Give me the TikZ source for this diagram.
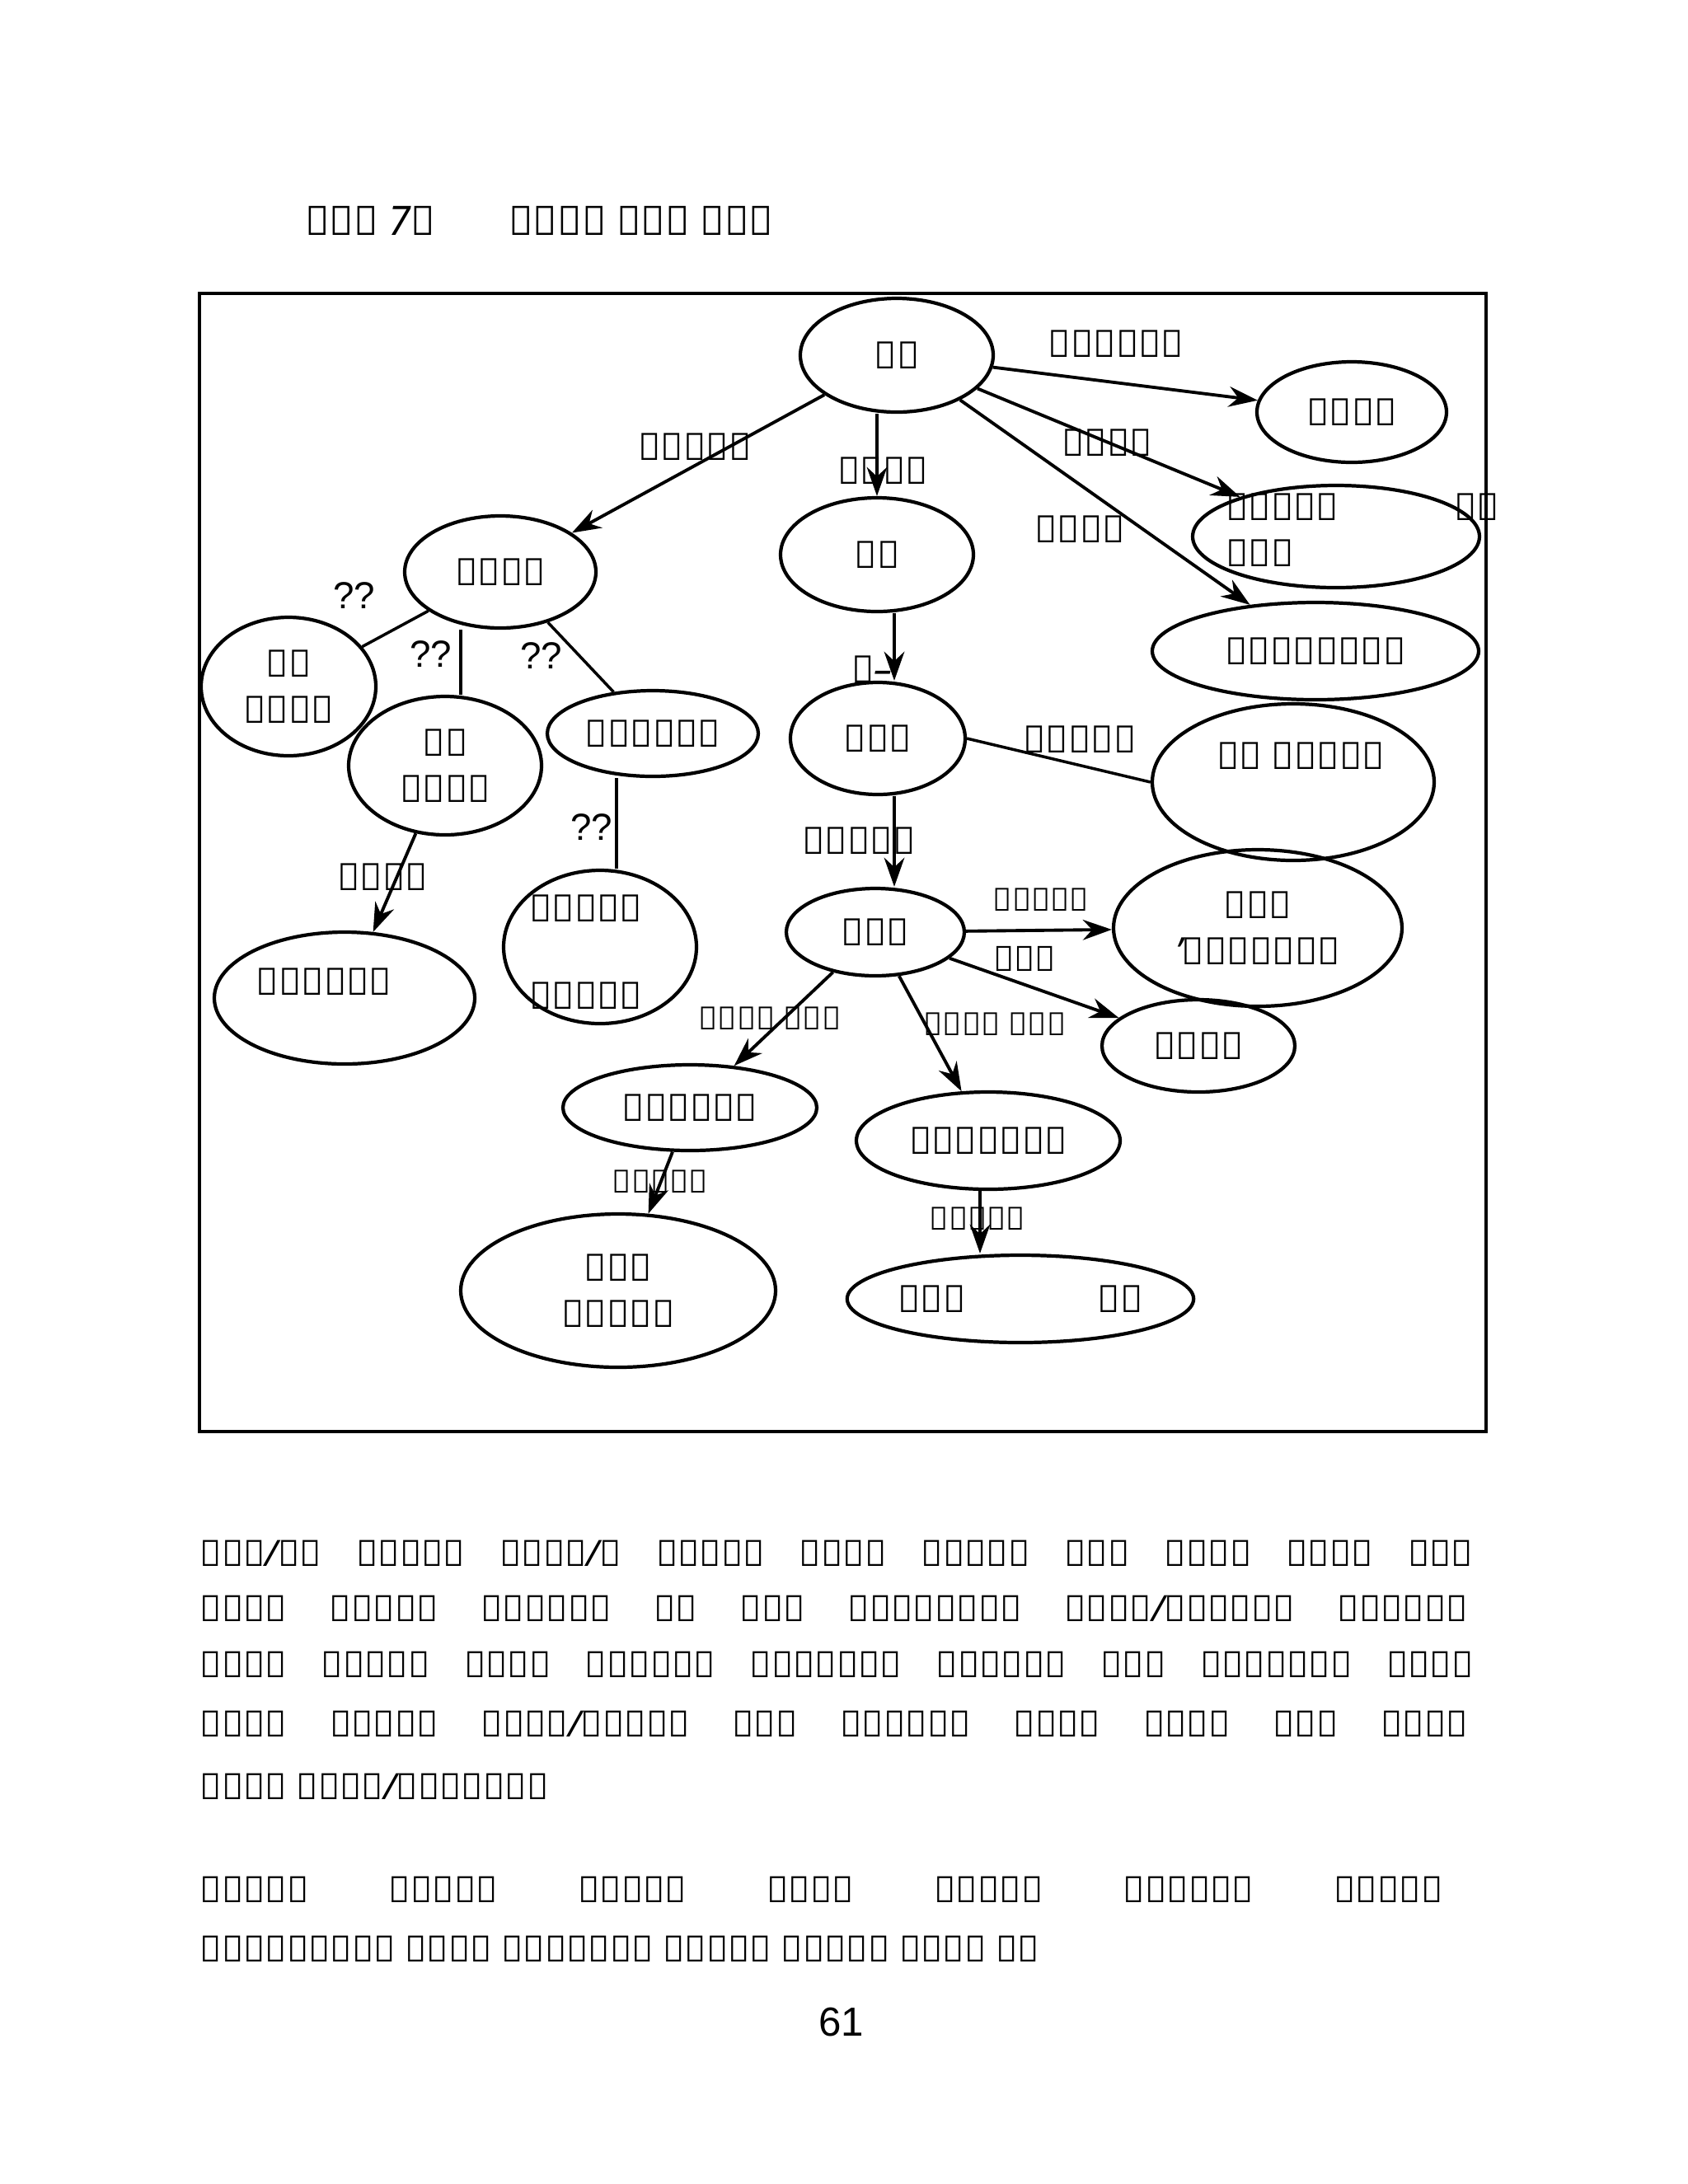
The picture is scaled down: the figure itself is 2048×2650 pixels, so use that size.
\documentclass[tikz,border=0pt]{standalone}
\usepackage{fontspec}
\setmainfont{Noto Sans}
\newfontfamily\pnum{Liberation Sans}
\usetikzlibrary{arrows.meta,shapes.geometric}
\newcommand{\JL}[1]{\spaceskip=0.3em plus 3em\parfillskip=0pt\relax #1\par}
\begin{document}
\begin{tikzpicture}[x=0.01cm,y=-0.01cm,
  el/.style={draw,ellipse,line width=1.2pt,inner sep=0pt,font=\fontsize{13}{16}\selectfont\itshape\bfseries},
  lb/.style={font=\fontsize{11}{13}\selectfont\itshape,inner sep=1pt},
  bl/.style={font=\fontsize{13}{16}\selectfont\itshape\bfseries,inner sep=1pt},
  ar/.style={line width=1.1pt,-{Stealth[length=10pt,width=7pt]}},
  ln/.style={line width=1pt},
  bodyj/.style={anchor=west,inner sep=0pt,text width=15.63cm,font=\fontsize{12.5}{15}\selectfont\itshape\bfseries},
  bodyl/.style={anchor=west,inner sep=0pt,font=\fontsize{12.5}{15}\selectfont\itshape\bfseries}]
\useasboundingbox (0,0) rectangle (2048,2650);
\node[font=\fontsize{14}{16}\selectfont\bfseries\itshape,anchor=west] (t1) at (358,268) {ምስል 7፡};
\node[font=\fontsize{14}{16}\selectfont\itshape,anchor=west] (t2) at (605,268) {የፅንስ ሃሳብ ካርታ};
\draw[line width=1pt] (242,356) rectangle (1803,1737);
\newcommand{\E}[5]{\node[el,minimum width=#3*2*0.01cm,minimum height=#4*2*0.01cm,align=center] (#1) at #2 {#5};}
\E{lib}{(1088,431)}{117}{69}{ልብ}
\E{sew}{(1640,500)}{115}{61}{ሰውነት}
\E{lay}{(1621,651)}{174}{62}{}
\node[bl,align=left,anchor=west] (layt) at (1483,643) {የላይኛዉ\hspace{1.4cm}ደም\\መልስ};
\E{tach}{(1596,790)}{198}{59}{ታችኛዉቨናክቫ}
\E{hw}{(607,694)}{116}{68}{ህዋሶች}
\E{dem}{(1064,673)}{117}{69}{ደም}
\E{qey}{(350,833)}{106}{84}{ቀይ\\ህዋሶች}
\E{nech}{(540,929)}{117}{84}{ነጭ\\ህዋሶች}
\E{pla}{(792,890)}{128}{52}{ፕላትሌትስ}
\E{bun}{(1065,896)}{106}{68}{ቧንቧ}
\E{wana}{(1569,949)}{171}{95}{}
\node[bl] (want) at (1578,917) {ዋና ደምስሮች};
\E{end}{(728,1149)}{117}{93}{}
\node[bl,align=left,anchor=west] (endt) at (638,1155) {እንዲረጋ\\[14pt]የደርጋል};
\E{bish}{(418,1211)}{158}{80}{}
\node[bl] (bisht) at (393,1191) {በሽታዎችን};
\E{yedem}{(1062,1131)}{108}{53}{የደም}
\E{qech}{(1526,1126)}{175}{95}{ቀጭን\\’ደምቧንቧዎች}
\E{san}{(1454,1269)}{117}{56}{የሳንባ}
\E{bay}{(837,1344)}{154}{52}{ባይክስፒድ}
\E{tray}{(1199,1384)}{160}{59}{ትራይክስፒድ}
\E{beq}{(750,1566)}{191}{93}{በቀኝ\\ልብበኩል}
\E{begra}{(1238,1576)}{200}{53}{በግራ\hspace{1.6cm}ልብ}
\draw[ar] (lib) -- (sew);
\draw[ar] (lib) -- (lay);
\draw[ar] (lib) -- (tach);
\draw[ar] (lib) -- (hw);
\draw[ar] (lib.south -| dem) -- (dem);
\draw[ln] (hw) -- (qey);
\draw[ln] (hw.south -| 559,0) -- (nech.north -| 559,0);
\draw[ln] (hw) -- (pla);
\draw[ln] (pla.south -| 748,0) -- (end.north -| 748,0);
\draw[ar] (nech) -- (bish);
\draw[ar] (dem.south -| 1085,0) -- (bun.north -| 1085,0);
\draw[ln] (bun.east) -- (wana.west);
\draw[ar] (bun.south -| 1085,0) -- (yedem.north -| 1085,0);
\draw[ar] (yedem) -- (qech);
\draw[ar] (yedem) -- (san);
\draw[ar] (yedem) -- (bay);
\draw[ar] (yedem) -- (tray);
\draw[ar] (bay) -- (beq);
\draw[ar] (tray.south -| 1189,0) -- (begra.north -| 1189,0);
\node[bl] (l1) at (1354,417) {ይዘዋወራል};
\node[bl] (l2) at (1343,537) {ይገባል};
\node[bl] (l3) at (1310,642) {ይገባል};
\node[bl] (l4) at (843,542) {የተሰራው};
\node[bl] (l5) at (1071,571) {ይረጫል};
\node[lb,font=\pnum\fontsize{13}{15}\selectfont] (q1) at (430,723) {??};
\node[lb,font=\pnum\fontsize{13}{15}\selectfont] (q2) at (523,794) {??};
\node[lb,font=\pnum\fontsize{13}{15}\selectfont] (q3) at (657,796) {??};
\node[lb,font=\pnum\fontsize{13}{15}\selectfont] (q4) at (718,1004) {??};
\node[bl] (l6) at (464,1064) {ይዋጋሉ};
\node[bl] (l7) at (1058,812) {በ--};
\node[bl] (l8) at (1310,897) {አይነቶች};
\node[bl] (l9) at (1042,1020) {አይነቶች};
\node[lb] (l10) at (1263,1092) {የተያያዘ};
\node[lb,font=\fontsize{12}{14}\selectfont\itshape\bfseries] (l11) at (1243,1163) {እንደ};
\node[lb] (l12) at (934,1236) {መግቢያ አለው};
\node[lb] (l13) at (1207,1243) {መግቢያ አለው};
\node[lb] (l14) at (801,1434) {የሚገኘው};
\node[lb] (l15) at (1186,1479) {የሚገኘው};
\node[bodyj] (b1) at (242,1885) {\JL{አንድ/ዲት የሳይንስ መመህራ/ት ተማሪዎቹ በአንድ ትምህርት ውስጥ በጽንሰ ሃሳቦች መሃል}};
\node[bodyj] (b2) at (242,1952) {\JL{ያሉትን ትክክለኛ ግንኙነቶች ምን ያህል እንደተገነዘቡ ለማወቅ/ለማጥናት፣ የተማሪዎች}};
\node[bodyj] (b3) at (242,2020) {\JL{የተዛባ ግንዛቤና የሀሳብ ድግግሞሽን በማስረጃነት ለማስቀመጥ ወይም የተማሪዎችን የሃሳብ}};
\node[bodyj] (b4) at (242,2092) {\JL{መዳበር ለመረዳት ቢፈልግ/ብትፈልግ ከላይ የተገለፀው ዓይነት የጽንሰ ሃሳብ ካርታን}};
\node[bodyl] (b5) at (242,2168) {መጠቀም ይችላል/ትችላለች፡፡};
\node[bodyj] (b6) at (242,2293) {\JL{መምህራን ትምህርት ሲያቅዱና ሪፖርት ሲያደርጉ በሚከተለው ሠንጠረዥ}};
\node[bodyl] (b7) at (242,2365) {እንደተመለከተው የምዘና መሣሪያዎችን ማጠቃለያ ሊያዘጋጁ ይችላሉ ፡፡};
\node[font=\pnum\fontsize{14}{16}\selectfont] (pg) at (1021,2454) {61};
\end{tikzpicture}
\end{document}
